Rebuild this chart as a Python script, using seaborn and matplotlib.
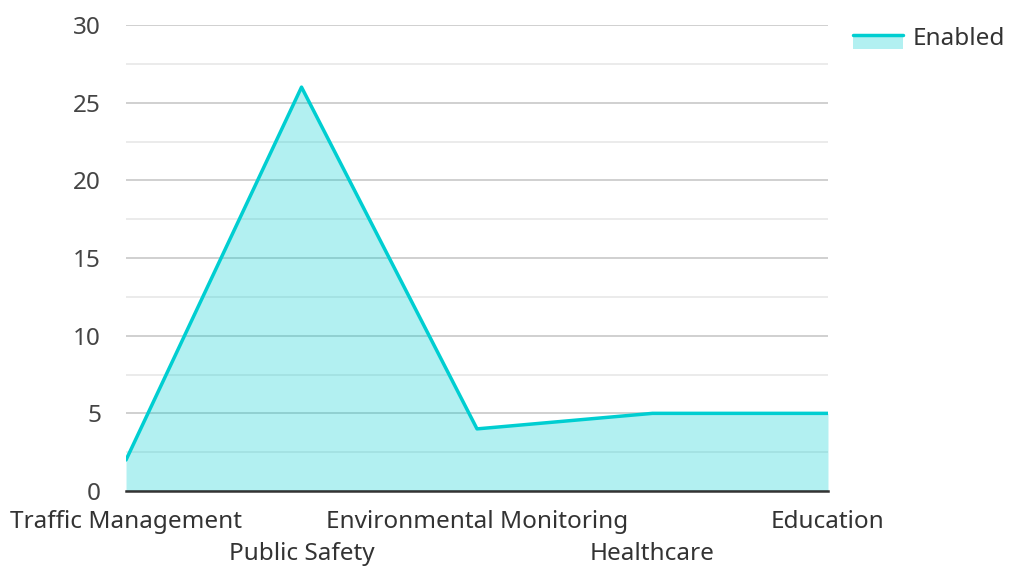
import numpy as np
import pandas as pd
import seaborn as sns
import matplotlib.pyplot as plt
from matplotlib.patches import Rectangle
from matplotlib.lines import Line2D
from matplotlib.legend_handler import HandlerBase
from matplotlib.ticker import MultipleLocator

categories = ["Traffic Management", "Public Safety", "Environmental Monitoring",
              "Healthcare", "Education"]
enabled = [2, 26, 4, 5, 5]
series_name = "Enabled"

LINE = "#00CED1"


class AreaHandler(HandlerBase):
	# line on top of a light filled box, like the area legend in the original
	def create_artists(self, legend, orig, xd, yd, w, h, fontsize, trans):
		rect = Rectangle((xd, yd - 0.25 * h), w, h * 0.9, facecolor=LINE, alpha=0.3,
						 edgecolor="none", transform=trans)
		ln = Line2D([xd, xd + w], [yd + 0.57 * h, yd + 0.57 * h], color=LINE, lw=2.5,
					transform=trans)
		return [rect, ln]


def main(output):
	sns.set_theme(style="white")
	plt.rcParams['font.family'] = ['Noto Sans', 'DejaVu Sans']

	df = pd.DataFrame({"category": categories, "value": enabled})

	fig = plt.figure(figsize=(10.09, 5.67), dpi=100)
	ax = fig.add_axes([0.1249, 0.134, 0.6957, 0.8219])

	sns.lineplot(data=df, x="category", y="value", color=LINE, lw=2.5, ax=ax,
				 sort=False, zorder=3)
	x = np.arange(len(categories))
	ax.fill_between(x, df["value"], color=LINE, alpha=0.3, lw=0, zorder=2)

	ax.set_xlim(0, len(categories) - 1)
	ax.set_ylim(0, 30)
	ax.yaxis.set_major_locator(MultipleLocator(5))
	ax.yaxis.set_minor_locator(MultipleLocator(2.5))
	ax.grid(which="major", axis="y", color="#c8c8c8", lw=1.2, zorder=0)
	ax.grid(which="minor", axis="y", color="#e8e8e8", lw=1.2, zorder=0)
	ax.grid(False, axis="x")
	ax.set_axisbelow(True)

	for s in ["top", "right", "left"]:
		ax.spines[s].set_visible(False)
	ax.spines["bottom"].set_color("#333333")
	ax.spines["bottom"].set_linewidth(1.8)
	ax.spines["bottom"].set_zorder(4)

	ax.set_xlabel("")
	ax.set_ylabel("")
	ax.set_xticks(x)
	ax.set_xticklabels(categories)
	ax.tick_params(axis="y", which="both", length=0, pad=18, labelsize=17.5, labelcolor="#444444")
	ax.tick_params(axis="x", length=0, labelsize=17.5, labelcolor="#333333")
	for i, t in enumerate(ax.xaxis.get_major_ticks()):
		t.set_pad(14 if i % 2 == 0 else 37)

	handle = Line2D([], [], color=LINE)
	fig.legend([handle], [series_name], handler_map={Line2D: AreaHandler()},
			   loc="center left", bbox_to_anchor=(0.845, 1 - 39 / 567), frameon=False,
			   borderpad=0, borderaxespad=0,
			   fontsize=17.5, labelcolor="#333333", handlelength=2.06, handletextpad=0.41)

	fig.savefig(output, dpi=100)


if __name__ == "__main__":
	main("out.png")
